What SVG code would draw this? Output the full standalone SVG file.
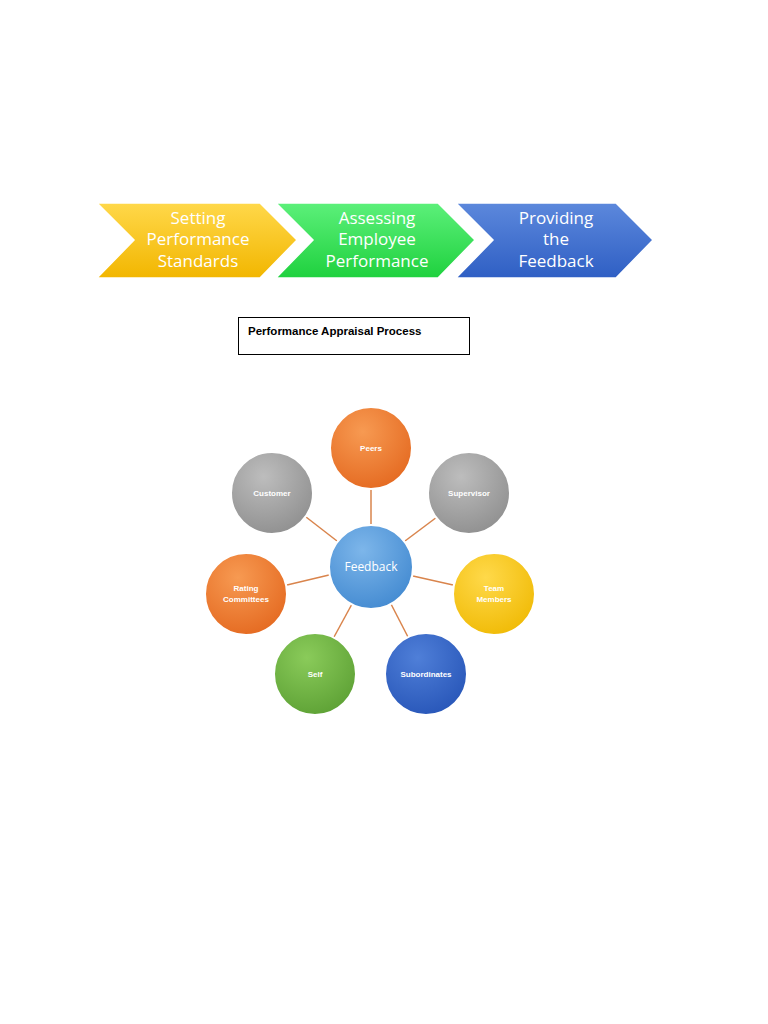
<svg xmlns="http://www.w3.org/2000/svg" width="768" height="1024" viewBox="0 0 768 1024">
<defs>
<linearGradient id="gy" x1="0" y1="0" x2="0" y2="1"><stop offset="0" stop-color="#ffd84a"/><stop offset="1" stop-color="#f2b600"/></linearGradient>
<linearGradient id="gg" x1="0" y1="0" x2="0" y2="1"><stop offset="0" stop-color="#5cf07a"/><stop offset="1" stop-color="#1fd13e"/></linearGradient>
<linearGradient id="gb" x1="0" y1="0" x2="0" y2="1"><stop offset="0" stop-color="#5c88dc"/><stop offset="1" stop-color="#2f5fc4"/></linearGradient>
<radialGradient id="ro" cx="0.4" cy="0.3" r="0.8"><stop offset="0" stop-color="#f79a52"/><stop offset="1" stop-color="#e3661d"/></radialGradient>
<radialGradient id="rgr" cx="0.4" cy="0.3" r="0.8"><stop offset="0" stop-color="#bdbdbd"/><stop offset="1" stop-color="#8c8c8c"/></radialGradient>
<radialGradient id="rbl" cx="0.4" cy="0.3" r="0.8"><stop offset="0" stop-color="#7db6ea"/><stop offset="1" stop-color="#3f87cf"/></radialGradient>
<radialGradient id="ryl" cx="0.4" cy="0.3" r="0.8"><stop offset="0" stop-color="#ffd94a"/><stop offset="1" stop-color="#efb800"/></radialGradient>
<radialGradient id="rgn" cx="0.4" cy="0.3" r="0.8"><stop offset="0" stop-color="#8acb5a"/><stop offset="1" stop-color="#5a9e32"/></radialGradient>
<radialGradient id="rdb" cx="0.4" cy="0.3" r="0.8"><stop offset="0" stop-color="#4f7fd8"/><stop offset="1" stop-color="#2553b6"/></radialGradient>
</defs>
<style>
.chev{stroke:#ffffff;stroke-width:1.5}
.ct{font-family:"Open Sans","Liberation Sans",sans-serif;font-size:17px;fill:#ffffff;text-anchor:middle}
.c{stroke:#ffffff;stroke-width:2}
.nt{font-family:"Liberation Sans",sans-serif;font-size:8px;font-weight:bold;fill:#ffffff;text-anchor:middle}
.ln{stroke:#d9844c;stroke-width:1.5}
</style>
<rect width="768" height="1024" fill="#ffffff"/>
<g id="step1"><polygon class="chev" fill="url(#gy)" points="97,203 260,203 297,240 260,278 97,278 134,240"/>
<text class="ct" x="198" y="224">Setting</text><text class="ct" x="198" y="245">Performance</text><text class="ct" x="198" y="267">Standards</text></g>
<g id="step2"><polygon class="chev" fill="url(#gg)" points="276,203 438,203 475,240 438,278 276,278 313,240"/>
<text class="ct" x="377" y="224">Assessing</text><text class="ct" x="377" y="245">Employee</text><text class="ct" x="377" y="267">Performance</text></g>
<g id="step3"><polygon class="chev" fill="url(#gb)" points="456,203 616,203 653,240 616,278 456,278 493,240"/>
<text class="ct" x="556" y="224">Providing</text><text class="ct" x="556" y="245">the</text><text class="ct" x="556" y="267">Feedback</text></g>
<g id="caption"><rect x="238.5" y="317.5" width="231" height="37" fill="#ffffff" stroke="#000000"/>
<text x="248" y="335" font-family="Liberation Sans,sans-serif" font-size="11.5" font-weight="bold" fill="#000">Performance Appraisal Process</text></g>
<g id="connectors">
<line class="ln" x1="371" y1="489" x2="371" y2="524"/>
<line class="ln" x1="306" y1="517" x2="337" y2="541"/>
<line class="ln" x1="437" y1="517" x2="405" y2="541"/>
<line class="ln" x1="287" y1="585" x2="329" y2="575"/>
<line class="ln" x1="453" y1="585" x2="413" y2="576"/>
<line class="ln" x1="334" y1="637" x2="352" y2="604"/>
<line class="ln" x1="408" y1="637" x2="391" y2="604"/>
</g>
<g id="peers"><circle class="c" cx="371" cy="448" r="41" fill="url(#ro)"/><text class="nt" x="371" y="451">Peers</text></g>
<g id="customer"><circle class="c" cx="272" cy="493" r="41" fill="url(#rgr)"/><text class="nt" x="272" y="496">Customer</text></g>
<g id="supervisor"><circle class="c" cx="469" cy="493" r="41" fill="url(#rgr)"/><text class="nt" x="469" y="496">Supervisor</text></g>
<g id="feedback"><circle class="c" cx="371" cy="567" r="42" fill="url(#rbl)"/><text x="371" y="571" font-family="Open Sans,Liberation Sans,sans-serif" font-size="12" fill="#fff" text-anchor="middle">Feedback</text></g>
<g id="rating"><circle class="c" cx="246" cy="594" r="41" fill="url(#ro)"/><text class="nt" x="246" y="591">Rating</text><text class="nt" x="246" y="602">Committees</text></g>
<g id="team"><circle class="c" cx="494" cy="594" r="41" fill="url(#ryl)"/><text class="nt" x="494" y="591">Team</text><text class="nt" x="494" y="602">Members</text></g>
<g id="self"><circle class="c" cx="315" cy="674" r="41" fill="url(#rgn)"/><text class="nt" x="315" y="677">Self</text></g>
<g id="subordinates"><circle class="c" cx="426" cy="674" r="41" fill="url(#rdb)"/><text class="nt" x="426" y="677">Subordinates</text></g>
</svg>
